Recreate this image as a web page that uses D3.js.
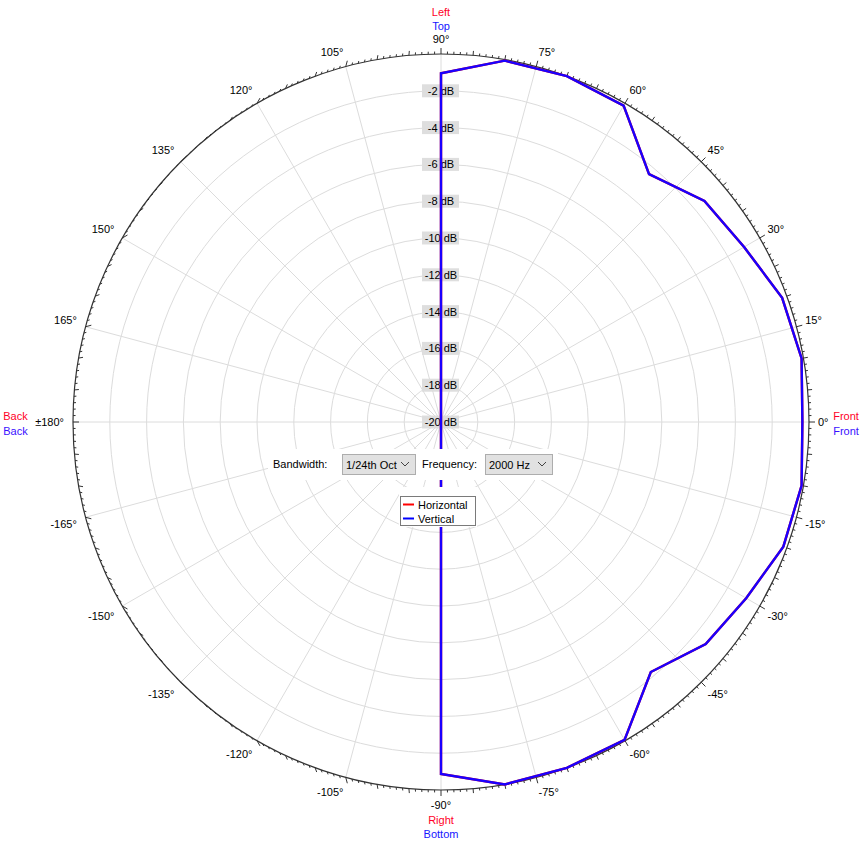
<!DOCTYPE html>
<html><head><meta charset="utf-8">
<script src="https://cdn.jsdelivr.net/npm/d3@7/dist/d3.min.js"></script>
<style>
html,body{margin:0;padding:0;background:#fff;}
svg{display:block;font-family:"Liberation Sans",Arial,sans-serif;font-size:11px;}
</style></head>
<body><svg id="chart" width="864" height="843"></svg>
<script>
// ---- data ----
const angles = [-180,-170,-160,-150,-140,-130,-120,-110,-100,-90,-80,-70,-60,-50,-40,-30,-20,-10,0,10,20,30,40,50,60,70,80,90,100,110,120,130,140,150,160,170];
const verticalDb = [-20,-20,-20,-20,-20,-20,-20,-20,-20,-0.87,0.0,0.0,-0.05,-2.26,-1.22,-0.85,-0.2,-0.1,-0.36,-0.1,-0.27,-0.98,-1.31,-2.41,-0.15,0.0,-0.06,-1.05,-20,-20,-20,-20,-20,-20,-20,-20];
const horizontalDb = [-20,-20,-20,-20,-20,-20,-20,-20,-20,-0.87,0.0,0.0,-0.05,-2.26,-1.22,-0.85,-0.2,-0.1,-0.36,-0.1,-0.27,-0.98,-1.31,-2.41,-0.15,0.0,-0.06,-1.05,-20,-20,-20,-20,-20,-20,-20,-20];
const dbTicks = [-2,-4,-6,-8,-10,-12,-14,-16,-18,-20];
const ringDb = [-18,-16,-14,-12,-10,-8,-6,-4,-2];
const degLabels = [165,150,135,120,105,90,75,60,45,30,15,0,-15,-30,-45,-60,-75,-90,-105,-120,-135,-150,-165,180];
const seriesNames = ["Horizontal","Vertical"];
const seriesColors = ["#ff0000","#1a00ff"];

// ---- layout ----
const cx = 441, cy = 422, R = 368;
const svg = d3.select("#chart");
const g = svg.append("g").attr("transform", `translate(${cx},${cy})`);
const r = d3.scaleLinear().domain([-20, 0]).range([0, R]).clamp(true);
const rad = d => d * Math.PI / 180;

// rings
g.selectAll("circle.ring").data(ringDb).enter().append("circle")
  .attr("r", d => r(d)).attr("fill", "none").attr("stroke", "#dcdcdc").attr("stroke-width", 1);
// spokes
g.selectAll("line.spoke").data(d3.range(0, 360, 15)).enter().append("line")
  .attr("x1", 0).attr("y1", 0)
  .attr("x2", d => R * Math.cos(rad(d))).attr("y2", d => -R * Math.sin(rad(d)))
  .attr("stroke", "#dcdcdc").attr("stroke-width", 1);
// outer circle
g.append("circle").attr("r", R).attr("fill", "none").attr("stroke", "#333").attr("stroke-width", 1.2);
// ticks
g.selectAll("line.tick").data(d3.range(-180, 180, 1)).enter().append("line")
  .each(function(d) {
    const len = d % 15 === 0 ? 6 : (d % 5 === 0 ? 4.5 : 2.5);
    const c = Math.cos(rad(d)), s = Math.sin(rad(d));
    const x0 = R * c, y0 = -R * s;
    d3.select(this).attr("x1", x0).attr("y1", y0)
      .attr("x2", x0 + len * Math.abs(c)).attr("y2", y0 - len * s);
  })
  .attr("stroke", "#333").attr("stroke-width", 1);

// degree labels
const LR = R + 9;
g.selectAll("text.deg").data(degLabels).enter().append("text")
  .each(function(d) {
    const c = Math.cos(rad(d)), s = Math.sin(rad(d));
    const x = LR * c, y = -(LR + 2) * s;
    let anchor = Math.abs(c) < 0.01 ? "middle" : (c > 0 ? "start" : "end");
    let by = Math.abs(s) < 0.01 ? y + 4 : (s > 0 ? y : y + 8);
    d3.select(this).attr("x", x).attr("y", by).attr("text-anchor", anchor)
      .text(d === 180 ? "±180°" : d + "°");
  })
  .attr("fill", "#000");

// dB labels
const dbG = g.selectAll("g.db").data(dbTicks).enter().append("g")
  .attr("transform", d => `translate(0,${-r(d)})`);
dbG.append("rect").attr("x", -19).attr("y", -6.5).attr("width", 37).attr("height", 13).attr("fill", "#dcdcdc").attr("opacity", 0.95);
dbG.append("text").attr("x", 0).attr("y", 4).attr("text-anchor", "middle").attr("fill", "#000").text(d => d + " dB");

// data lines
const line = d3.lineRadial()
  .angle(d => rad(90 - d[0]))
  .radius(d => r(d[1]))
  .curve(d3.curveLinearClosed);
[horizontalDb, verticalDb].forEach((vals, i) => {
  g.append("path").datum(angles.map((a, k) => [a, vals[k]]))
    .attr("d", line).attr("fill", "none")
    .attr("stroke", seriesColors[i]).attr("stroke-width", 2.4).attr("stroke-linejoin", "miter");
});

// controls panel
svg.append("rect").attr("x", 268).attr("y", 449).attr("width", 290).attr("height", 31).attr("fill", "#fff");
svg.append("text").attr("x", 273).attr("y", 468).attr("fill", "#000").text("Bandwidth:");
svg.append("text").attr("x", 422).attr("y", 468).attr("fill", "#000").text("Frequency:");
function combo(x, w, label, id) {
  svg.append("rect").attr("x", x + 0.5).attr("y", 454.5).attr("width", w).attr("height", 20)
    .attr("fill", "#e1e1e1").attr("stroke", "#adadad");
  svg.append("clipPath").attr("id", id).append("rect").attr("x", x + 2).attr("y", 455).attr("width", w - 20).attr("height", 19);
  svg.append("text").attr("x", x + 4).attr("y", 469).attr("fill", "#000").attr("clip-path", `url(#${id})`).text(label);
  const chx = x + w - 10;
  svg.append("path").attr("d", `M${chx - 4},462 L${chx},466 L${chx + 4},462`).attr("fill", "none").attr("stroke", "#444").attr("stroke-width", 1);
}
combo(342, 73, "1/24th Oct", "c1");
combo(485, 67, "2000 Hz", "c2");

// legend
svg.append("rect").attr("x", 399).attr("y", 487).attr("width", 78).attr("height", 40).attr("fill", "#fff");
svg.append("rect").attr("x", 400.5).attr("y", 496.5).attr("width", 75).attr("height", 29).attr("fill", "#fff").attr("stroke", "#7a7a7a");
seriesNames.forEach((n, i) => {
  const y = 504.5 + i * 14;
  svg.append("line").attr("x1", 403).attr("x2", 414).attr("y1", y).attr("y2", y).attr("stroke", i === 1 ? "#0000ff" : seriesColors[i]).attr("stroke-width", 2);
  svg.append("text").attr("x", 418).attr("y", y + 4).attr("fill", "#000").text(n);
});

// side labels
const red = "#ff0028", blue = "#1515ff";
const sideLabels = [
  {t:"Left", x:441, y:16, c:red, a:"middle"},
  {t:"Top", x:441, y:30, c:blue, a:"middle"},
  {t:"Right", x:441, y:824, c:red, a:"middle"},
  {t:"Bottom", x:441, y:838, c:blue, a:"middle"},
  {t:"Back", x:15.5, y:420, c:red, a:"middle"},
  {t:"Back", x:15.5, y:435, c:"#3a10ff", a:"middle"},
  {t:"Front", x:846, y:420, c:red, a:"middle"},
  {t:"Front", x:846, y:435, c:"#3a10ff", a:"middle"}
];
svg.selectAll("text.side").data(sideLabels).enter().append("text")
  .attr("x", d => d.x).attr("y", d => d.y).attr("fill", d => d.c).attr("text-anchor", d => d.a).text(d => d.t);
</script></body></html>
